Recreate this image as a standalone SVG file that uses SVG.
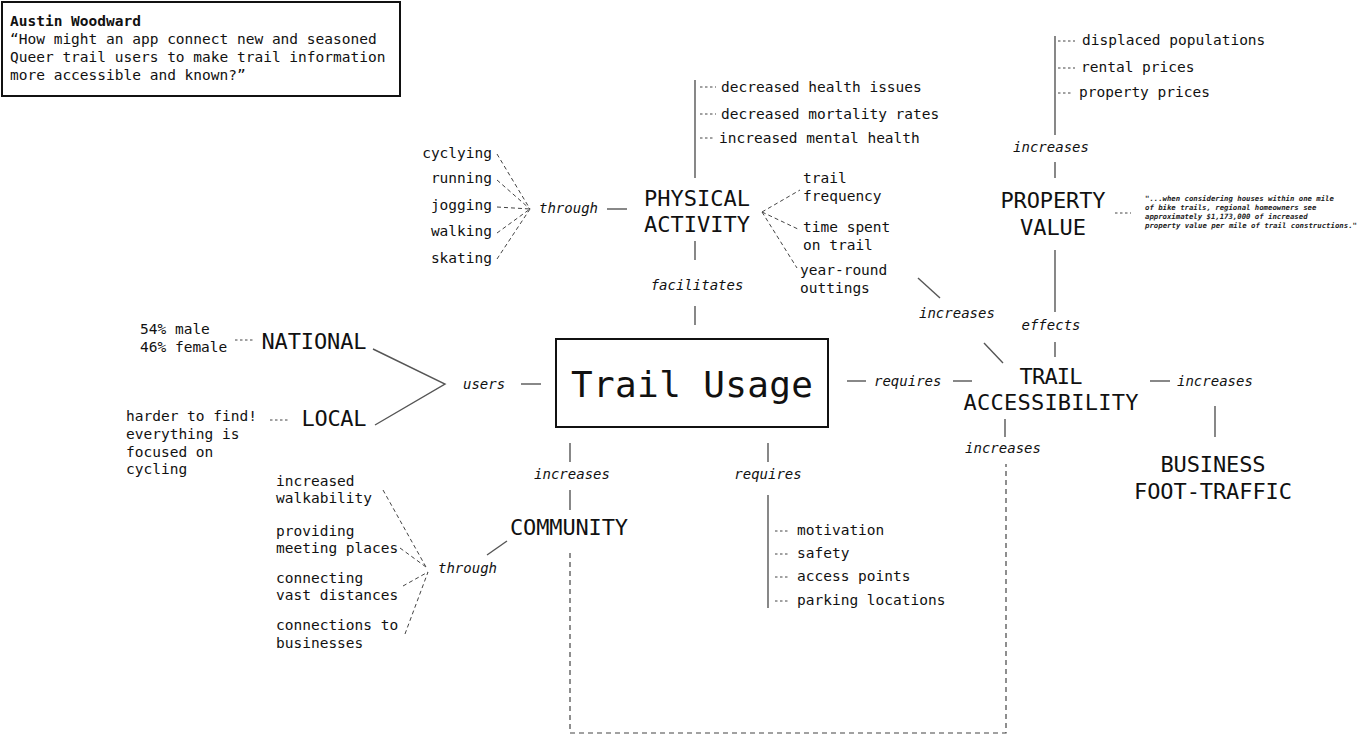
<svg xmlns="http://www.w3.org/2000/svg" width="1358" height="735" viewBox="0 0 1358 735">
<style>
.t{font-family:"DejaVu Sans Mono","Liberation Mono",monospace;font-size:14.5px;fill:#111}
.i{font-style:italic;font-size:14px}
.b{font-weight:bold}
.h{font-family:"DejaVu Sans Mono","Liberation Mono",monospace;font-size:22px;fill:#111;text-anchor:middle}
.m{text-anchor:middle}
.e{text-anchor:end}
.q{font-family:"DejaVu Sans Mono",monospace;font-size:7.3px;font-style:italic;font-weight:bold;fill:#222}
.ln{stroke:#555;stroke-width:1.4;fill:none}
.dl{stroke:#444;stroke-width:1;stroke-dasharray:4 3;fill:none}
.dd{stroke:#444;stroke-width:1;stroke-dasharray:2.5 2.5;fill:none}
.db{stroke:#444;stroke-width:1.2;stroke-dasharray:5 4;fill:none}
</style>
<rect width="1358" height="735" fill="#fff"/>

<g id="header">
<rect x="2" y="2" width="398" height="94" fill="#fff" stroke="#111" stroke-width="2"/>
<text class="t b" x="10" y="26">Austin Woodward</text>
<text class="t" x="10" y="44">“How might an app connect new and seasoned</text>
<text class="t" x="10" y="62">Queer trail users to make trail information</text>
<text class="t" x="10" y="80">more accessible and known?”</text>
</g>

<g id="connectors">
<line class="ln" x1="695" y1="80" x2="695" y2="178"/>
<line class="dd" x1="700" y1="87" x2="716" y2="87"/>
<line class="dd" x1="700" y1="114" x2="716" y2="114"/>
<line class="dd" x1="700" y1="138" x2="714" y2="138"/>
<line class="ln" x1="695" y1="241" x2="695" y2="260"/>
<line class="ln" x1="695" y1="306" x2="695" y2="325"/>
<line class="dl" x1="497" y1="154" x2="530" y2="209"/>
<line class="dl" x1="497" y1="180" x2="530" y2="209"/>
<line class="dl" x1="497" y1="207" x2="530" y2="209"/>
<line class="dl" x1="497" y1="233" x2="530" y2="209"/>
<line class="dl" x1="497" y1="259" x2="530" y2="209"/>
<line class="ln" x1="607" y1="209" x2="627" y2="209"/>
<line class="dl" x1="762" y1="212" x2="800" y2="190"/>
<line class="dl" x1="762" y1="212" x2="800" y2="230"/>
<line class="dl" x1="762" y1="212" x2="797" y2="268"/>
<line class="ln" x1="918" y1="278" x2="940" y2="298"/>
<line class="ln" x1="984" y1="343" x2="1003" y2="363"/>
<line class="ln" x1="1055" y1="36" x2="1055" y2="135"/>
<line class="dd" x1="1058" y1="41" x2="1075" y2="41"/>
<line class="dd" x1="1058" y1="68" x2="1075" y2="68"/>
<line class="dd" x1="1058" y1="93" x2="1073" y2="93"/>
<line class="ln" x1="1055" y1="162" x2="1055" y2="178"/>
<line class="dd" x1="1115" y1="213" x2="1131" y2="213"/>
<line class="ln" x1="1055" y1="250" x2="1055" y2="312"/>
<line class="ln" x1="1055" y1="342" x2="1055" y2="357"/>
<line class="ln" x1="847" y1="381" x2="866" y2="381"/>
<line class="ln" x1="953" y1="381" x2="972" y2="381"/>
<line class="ln" x1="1150" y1="381" x2="1170" y2="381"/>
<line class="ln" x1="1215" y1="406" x2="1215" y2="437"/>
<line class="ln" x1="1005" y1="419" x2="1005" y2="437"/>
<line class="ln" x1="521" y1="384" x2="541" y2="384"/>
<polyline class="ln" points="373,349 445,384 375,425"/>
<line class="dd" x1="235" y1="340" x2="253" y2="340"/>
<line class="dd" x1="270" y1="420" x2="288" y2="420"/>
<line class="ln" x1="570" y1="443" x2="570" y2="462"/>
<line class="ln" x1="570" y1="490" x2="570" y2="510"/>
<line class="ln" x1="487" y1="555" x2="507" y2="541"/>
<line class="dl" x1="383" y1="490" x2="426" y2="567"/>
<line class="dl" x1="400" y1="548" x2="426" y2="567"/>
<line class="dl" x1="403" y1="586" x2="428" y2="572"/>
<line class="dl" x1="405" y1="634" x2="428" y2="572"/>
<polyline class="db" points="570,553 570,733 1006,733 1006,464"/>
<line class="ln" x1="768" y1="443" x2="768" y2="462"/>
<line class="ln" x1="768" y1="495" x2="768" y2="608"/>
<line class="dd" x1="775" y1="531" x2="790" y2="531"/>
<line class="dd" x1="775" y1="554" x2="790" y2="554"/>
<line class="dd" x1="775" y1="577" x2="790" y2="577"/>
<line class="dd" x1="775" y1="601" x2="790" y2="601"/>
</g>

<g id="labels">
<text class="t i" x="539" y="213">through</text>
<text class="t i m" x="697" y="290">facilitates</text>
<text class="t i" x="919" y="318">increases</text>
<text class="t i m" x="1051" y="152">increases</text>
<text class="t i m" x="1051" y="330">effects</text>
<text class="t i" x="874" y="386">requires</text>
<text class="t i" x="1177" y="386">increases</text>
<text class="t i m" x="1003" y="453">increases</text>
<text class="t i" x="463" y="389">users</text>
<text class="t i m" x="572" y="479">increases</text>
<text class="t i m" x="768" y="479">requires</text>
<text class="t i" x="438" y="573">through</text>
</g>

<g id="trail-usage">
<rect x="556" y="339" width="272" height="88" fill="#fff" stroke="#111" stroke-width="2"/>
<text class="t m" x="692" y="397" style="font-size:36px" textLength="242">Trail Usage</text>
</g>

<g id="physical-activity">
<text class="h" x="697" y="206" textLength="106">PHYSICAL</text>
<text class="h" x="697" y="232" textLength="106">ACTIVITY</text>
</g>

<g id="health-items">
<text class="t" x="721" y="92">decreased health issues</text>
<text class="t" x="721" y="119">decreased mortality rates</text>
<text class="t" x="719" y="143">increased mental health</text>
</g>

<g id="activities">
<text class="t e" x="492" y="158">cyclying</text>
<text class="t e" x="492" y="183">running</text>
<text class="t e" x="492" y="210">jogging</text>
<text class="t e" x="492" y="236">walking</text>
<text class="t e" x="492" y="263">skating</text>
</g>

<g id="activity-measures">
<text class="t" x="803" y="183">trail</text>
<text class="t" x="803" y="201">frequency</text>
<text class="t" x="803" y="232">time spent</text>
<text class="t" x="803" y="250">on trail</text>
<text class="t" x="800" y="275">year-round</text>
<text class="t" x="800" y="293">outtings</text>
</g>

<g id="property-value">
<text class="h" x="1053" y="208" textLength="105">PROPERTY</text>
<text class="h" x="1053" y="235" textLength="66">VALUE</text>
</g>

<g id="property-items">
<text class="t" x="1082" y="45">displaced populations</text>
<text class="t" x="1081" y="72">rental prices</text>
<text class="t" x="1079" y="97">property prices</text>
</g>

<g id="quote">
<text class="q" x="1145" y="201">"...when considering houses within one mile</text>
<text class="q" x="1145" y="210">of bike trails, regional homeowners see</text>
<text class="q" x="1145" y="219">approximately $1,173,000 of increased</text>
<text class="q" x="1145" y="228" textLength="212">property value per mile of trail constructions."</text>
</g>

<g id="trail-accessibility">
<text class="h" x="1051" y="384" textLength="63">TRAIL</text>
<text class="h" x="1051" y="410" textLength="175">ACCESSIBILITY</text>
</g>

<g id="business">
<text class="h" x="1213" y="472" textLength="105">BUSINESS</text>
<text class="h" x="1213" y="499" textLength="158">FOOT-TRAFFIC</text>
</g>

<g id="national">
<text class="h" x="314" y="349" textLength="105">NATIONAL</text>
<text class="t" x="140" y="334">54% male</text>
<text class="t" x="140" y="352">46% female</text>
</g>

<g id="local">
<text class="h" x="334" y="426" textLength="65">LOCAL</text>
<text class="t" x="126" y="421">harder to find!</text>
<text class="t" x="126" y="439">everything is</text>
<text class="t" x="126" y="457">focused on</text>
<text class="t" x="126" y="474">cycling</text>
</g>

<g id="community">
<text class="h" x="569" y="535" textLength="118">COMMUNITY</text>
</g>

<g id="community-items">
<text class="t" x="276" y="486">increased</text>
<text class="t" x="276" y="503">walkability</text>
<text class="t" x="276" y="536">providing</text>
<text class="t" x="276" y="553">meeting places</text>
<text class="t" x="276" y="583">connecting</text>
<text class="t" x="276" y="600">vast distances</text>
<text class="t" x="276" y="630">connections to</text>
<text class="t" x="276" y="648">businesses</text>
</g>

<g id="requirements">
<text class="t" x="797" y="535">motivation</text>
<text class="t" x="797" y="558">safety</text>
<text class="t" x="797" y="581">access points</text>
<text class="t" x="797" y="605">parking locations</text>
</g>
</svg>
